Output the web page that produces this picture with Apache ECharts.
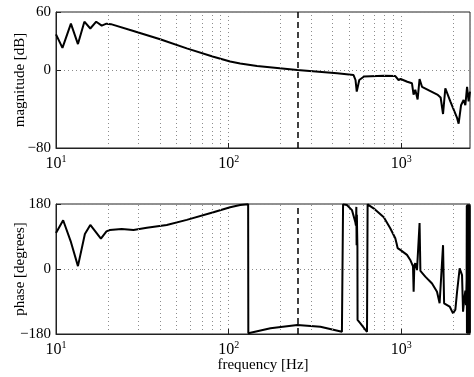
<!DOCTYPE html>
<html>
<head>
<meta charset="utf-8">
<script src="https://cdn.jsdelivr.net/npm/echarts@6/dist/echarts.min.js"></script>
<style>
  html, body { margin: 0; padding: 0; background: #fff; }
  #chart { width: 474px; height: 377px; }
</style>
</head>
<body>
<div id="chart"></div>
<script>
// magnitude curve
var freqMag = [10, 10.9, 12.2, 13.4, 14.6, 15.8, 17.1, 18.4, 19.6, 20.8, 28.7, 40.1, 57.2, 81.6, 102, 116.6, 146, 250, 425, 529, 543, 552, 571, 608, 794, 923, 964, 991, 1083, 1153, 1178, 1205, 1243, 1276, 1318, 1617, 1690, 1745, 1799, 1923, 2104, 2148, 2218, 2296, 2349, 2404, 2455, 2500];
var magDb = [37, 23, 48, 27, 50, 43, 50, 46, 48, 47.5, 40, 32, 22.6, 14, 9, 7, 4.4, 0.3, -3.1, -4.9, -10, -22, -10, -6.4, -5.6, -5.9, -10, -9, -11.8, -13.4, -25, -20, -30, -9, -17, -25, -28, -45, -18.5, -32, -49, -55, -36, -30.6, -36, -17, -32, -22];

// phase curve
var freqPh = [10, 11, 12.2, 13.4, 14.7, 15.8, 18.2, 19.6, 20.5, 24, 28.1, 33.6, 43.8, 57.2, 81.6, 102, 116.6, 129.7, 130, 174.7, 250, 340, 453, 459, 460, 484, 518, 541, 546, 549, 551, 553, 555, 557, 558, 578, 633, 637, 638, 691, 792, 863, 923, 940, 945, 952, 960, 987, 1079, 1127, 1169, 1179, 1190, 1205, 1233, 1276, 1290, 1300, 1377, 1507, 1610, 1667, 1700, 1745, 1770, 1799, 1906, 1993, 2056, 2104, 2178, 2248, 2279, 2318, 2350, 2370, 2390, 2395, 2400, 2406, 2412, 2418, 2424, 2430, 2436, 2442, 2448, 2454, 2460, 2466, 2472, 2478, 2484, 2490, 2496];
var phDeg = [100, 135, 75, 8, 97, 122, 84, 104, 108, 111, 108, 114, 122, 136, 157, 171, 177, 179, -178, -164, -155, -160, -174, -177, 179, 177, 163, 131, 120, 172, 66, 150, 100, 60, -141, -150, -174, -178, 179, 168, 143, 113, 85, 70, 75, 58, 60, 53, 39, 25, 7, -63, 10, 16, -3, 127, -5, -8, -21, -40, -63, -95, -90, 66, -95, -91, -104, -123, -113, -63, 2, -17, -118, -81, -60, -100, -30, 175, -178, 178, -178, 178, -179, 179, -179, 179, -179, 179, -179, 178, -178, 178, -178, 176, -176];

var markFreq = 250;
var minorFreq = [20, 30, 40, 50, 60, 70, 80, 90, 200, 300, 400, 500, 600, 700, 800, 900, 2000];
var magTicks = [-80, 0, 60];
var phTicks = [-180, 0, 180];

var font = "'Liberation Serif', 'Times New Roman', serif";
var gridColor = '#8c8c8c';

function pairs(xs, ys) {
  return xs.map(function (x, i) { return [x, ys[i]]; });
}

function xAx(gridIndex, withName) {
  return {
    type: 'log',
    logBase: 10,
    gridIndex: gridIndex,
    min: 10,
    max: 2500,
    name: withName ? 'frequency [Hz]' : '',
    nameLocation: 'middle',
    nameGap: 24,
    nameMoveOverlap: false,
    nameTextStyle: { fontFamily: font, fontSize: 15, color: '#000' },
    axisLine: { show: true, onZero: false, lineStyle: { color: '#222', width: 1 } },
    axisTick: { show: true, inside: true, length: 5, lineStyle: { color: '#222' } },
    splitLine: { show: true, lineStyle: { color: gridColor, type: [1, 3], width: 1 } },
    axisLabel: {
      margin: 6,
      showMaxLabel: false,
      formatter: function (v) {
        return '{b|10}{s|' + Math.round(Math.log10(v)) + '}';
      },
      rich: {
        b: { fontFamily: font, fontSize: 16, color: '#000' },
        s: { fontFamily: font, fontSize: 10, color: '#000', padding: [0, 0, 9, 0] }
      }
    }
  };
}

function yAx(gridIndex, name, lo, hi, ticks) {
  return {
    type: 'value',
    gridIndex: gridIndex,
    min: lo,
    max: hi,
    name: name,
    nameLocation: 'middle',
    nameGap: 28,
    nameMoveOverlap: false,
    nameTextStyle: { fontFamily: font, fontSize: 15, color: '#000' },
    axisLine: { show: true, onZero: false, lineStyle: { color: '#222', width: 1 } },
    axisTick: { show: true, inside: true, length: 5, customValues: ticks, lineStyle: { color: '#222' } },
    splitLine: { show: true, lineStyle: { color: gridColor, type: [1, 3], width: 1 } },
    axisLabel: {
      margin: 5,
      customValues: ticks,
      fontFamily: font,
      fontSize: 15,
      color: '#000',
      formatter: function (v) { return String(v).replace('-', '\u2212'); }
    }
  };
}

function curve(xi, yi, data) {
  return {
    type: 'line',
    xAxisIndex: xi,
    yAxisIndex: yi,
    data: data,
    showSymbol: false,
    silent: true,
    animation: false,
    lineStyle: { color: '#000', width: 2 },
    markLine: {
      silent: true,
      symbol: 'none',
      label: { show: false },
      animation: false,
      lineStyle: { color: '#000', width: 1.5, type: [6, 4] },
      data: [{ xAxis: markFreq }]
    }
  };
}

function minorGrid(xi, yi) {
  return {
    type: 'line',
    xAxisIndex: xi,
    yAxisIndex: yi,
    data: [],
    silent: true,
    animation: false,
    markLine: {
      silent: true,
      symbol: 'none',
      label: { show: false },
      animation: false,
      lineStyle: { color: gridColor, width: 1, type: [1, 3] },
      data: minorFreq.map(function (f) { return { xAxis: f }; })
    }
  };
}

var chart = echarts.init(document.getElementById('chart'));
chart.setOption({
  backgroundColor: '#fff',
  animation: false,
  grid: [
    { left: 56, top: 12, width: 414, height: 136, outerBoundsMode: 'none', show: true, borderColor: '#222', borderWidth: 1, backgroundColor: 'transparent' },
    { left: 56, top: 204, width: 414, height: 130, outerBoundsMode: 'none', show: true, borderColor: '#222', borderWidth: 1, backgroundColor: 'transparent' }
  ],
  xAxis: [xAx(0, false), xAx(1, true)],
  yAxis: [
    yAx(0, 'magnitude [dB]', -80, 60, magTicks),
    yAx(1, 'phase [degrees]', -180, 180, phTicks)
  ],
  series: [
    minorGrid(0, 0),
    minorGrid(1, 1),
    curve(0, 0, pairs(freqMag, magDb)),
    curve(1, 1, pairs(freqPh, phDeg))
  ]
});
window.addEventListener('resize', function () { chart.resize(); });
</script>
</body>
</html>
